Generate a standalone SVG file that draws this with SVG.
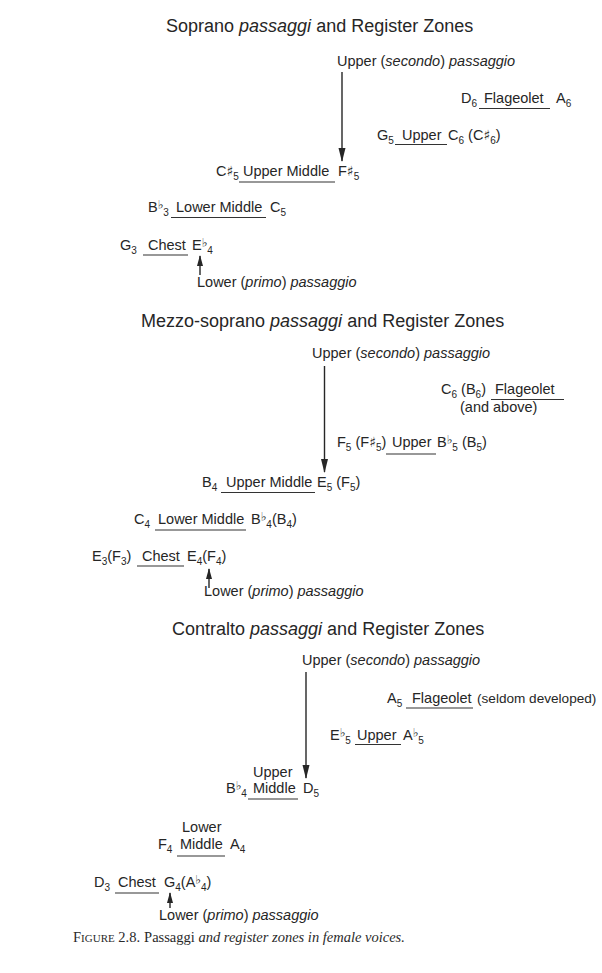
<svg xmlns="http://www.w3.org/2000/svg" width="602" height="973" viewBox="0 0 602 973">
<style>
text { font-family: "Liberation Sans", Arial, sans-serif; font-size: 14.5px; fill: #262626; }
.title { font-size: 18px; }
.i { font-style: italic; }
.s { font-size: 10px; }
.f { font-family: "DejaVu Sans", sans-serif; font-size: 12px; }
.sh { font-family: "DejaVu Sans", sans-serif; font-size: 14px; }
.ul { stroke: #333; stroke-width: 1.2; }
.arr { stroke: #262626; stroke-width: 1.4; fill: none; }
.cap { font-family: "Liberation Serif", "Times New Roman", serif; font-size: 14.5px; fill: #2a2a2a; }
.sc { font-size: 11px; }
</style>
<defs>
<marker id="ah" markerUnits="userSpaceOnUse" markerWidth="14" markerHeight="8" refX="13" refY="4" orient="auto">
<path d="M0,0.5 L14,4 L0,7.5 z" fill="#262626"/>
</marker>
<marker id="ahs" markerUnits="userSpaceOnUse" markerWidth="11" markerHeight="7" refX="10" refY="3.5" orient="auto">
<path d="M0,0.5 L11,3.5 L0,6.5 z" fill="#262626"/>
</marker>
</defs>
<rect width="602" height="973" fill="#ffffff"/>

<!-- Soprano -->
<g id="soprano-title"><text class="title" x="166" y="32">Soprano <tspan class="i">passaggi</tspan> and Register Zones</text></g>
<g id="s-upper-passaggio"><text x="337" y="66">Upper (<tspan class="i">secondo</tspan>) <tspan class="i">passaggio</tspan></text></g>
<g id="s-flageolet">
<text x="461" y="103">D<tspan class="s" dy="4">6</tspan></text>
<text x="484" y="103">Flageolet</text>
<line class="ul" x1="479" y1="108.5" x2="550" y2="108.5"/>
<text x="556" y="103">A<tspan class="s" dy="4">6</tspan></text>
</g>
<g id="s-upper">
<text x="377" y="140">G<tspan class="s" dy="4">5</tspan></text>
<text x="402" y="140">Upper</text>
<line class="ul" x1="395" y1="144.5" x2="447" y2="144.5"/>
<text x="448" y="140">C<tspan class="s" dy="4">6</tspan><tspan dy="-4"> (C</tspan><tspan class="sh">♯</tspan><tspan class="s" dy="4">6</tspan><tspan dy="-4">)</tspan></text>
</g>
<g id="s-upper-middle">
<text x="216" y="176">C<tspan class="sh">♯</tspan><tspan class="s" dy="4">5</tspan></text>
<text x="243" y="176">Upper Middle</text>
<line class="ul" x1="239" y1="182" x2="335" y2="182"/>
<text x="338" y="176">F<tspan class="sh">♯</tspan><tspan class="s" dy="4">5</tspan></text>
</g>
<g id="s-lower-middle">
<text x="148" y="212">B<tspan class="f" dy="-3">♭</tspan><tspan class="s" dy="7">3</tspan></text>
<text x="176" y="212">Lower Middle</text>
<line class="ul" x1="171" y1="217.5" x2="266" y2="217.5"/>
<text x="270" y="212">C<tspan class="s" dy="4">5</tspan></text>
</g>
<g id="s-chest">
<text x="120" y="250">G<tspan class="s" dy="4">3</tspan></text>
<text x="148" y="250">Chest</text>
<line class="ul" x1="143" y1="255" x2="188" y2="255"/>
<text x="192" y="250">E<tspan class="f" dy="-3">♭</tspan><tspan class="s" dy="7">4</tspan></text>
</g>
<g id="s-lower-passaggio"><text x="197" y="287">Lower (<tspan class="i">primo</tspan>) <tspan class="i">passaggio</tspan></text></g>

<!-- Mezzo-soprano -->
<g id="mezzo-title"><text class="title" x="141" y="327">Mezzo-soprano <tspan class="i">passaggi</tspan> and Register Zones</text></g>
<g id="m-upper-passaggio"><text x="312" y="358">Upper (<tspan class="i">secondo</tspan>) <tspan class="i">passaggio</tspan></text></g>
<g id="m-flageolet">
<text x="441" y="394">C<tspan class="s" dy="4">6</tspan><tspan dy="-4"> (B</tspan><tspan class="s" dy="4">6</tspan><tspan dy="-4">)</tspan></text>
<text x="495" y="394">Flageolet</text>
<line class="ul" x1="491" y1="399.5" x2="564" y2="399.5"/>
<text x="460" y="412">(and above)</text>
</g>
<g id="m-upper">
<text x="337" y="447">F<tspan class="s" dy="4">5</tspan><tspan dy="-4"> (F</tspan><tspan class="sh">♯</tspan><tspan class="s" dy="4">5</tspan><tspan dy="-4">)</tspan></text>
<text x="392" y="447">Upper</text>
<line class="ul" x1="386" y1="454" x2="436" y2="454"/>
<text x="437" y="447">B<tspan class="f" dy="-3">♭</tspan><tspan class="s" dy="7">5</tspan><tspan dy="-4"> (B</tspan><tspan class="s" dy="4">5</tspan><tspan dy="-4">)</tspan></text>
</g>
<g id="m-upper-middle">
<text x="202" y="487">B<tspan class="s" dy="4">4</tspan></text>
<text x="226" y="487">Upper Middle</text>
<line class="ul" x1="221" y1="492.5" x2="315" y2="492.5"/>
<text x="317" y="487">E<tspan class="s" dy="4">5</tspan><tspan dy="-4"> (F</tspan><tspan class="s" dy="4">5</tspan><tspan dy="-4">)</tspan></text>
</g>
<g id="m-lower-middle">
<text x="134" y="524">C<tspan class="s" dy="4">4</tspan></text>
<text x="158" y="524">Lower Middle</text>
<line class="ul" x1="155" y1="530" x2="246" y2="530"/>
<text x="251" y="524">B<tspan class="f" dy="-3">♭</tspan><tspan class="s" dy="7">4</tspan><tspan dy="-4">(B</tspan><tspan class="s" dy="4">4</tspan><tspan dy="-4">)</tspan></text>
</g>
<g id="m-chest">
<text x="92" y="561">E<tspan class="s" dy="4">3</tspan><tspan dy="-4">(F</tspan><tspan class="s" dy="4">3</tspan><tspan dy="-4">)</tspan></text>
<text x="142" y="561">Chest</text>
<line class="ul" x1="137" y1="566" x2="184" y2="566"/>
<text x="187" y="561">E<tspan class="s" dy="4">4</tspan><tspan dy="-4">(F</tspan><tspan class="s" dy="4">4</tspan><tspan dy="-4">)</tspan></text>
</g>
<g id="m-lower-passaggio"><text x="204" y="596">Lower (<tspan class="i">primo</tspan>) <tspan class="i">passaggio</tspan></text></g>

<!-- Contralto -->
<g id="contralto-title"><text class="title" x="172" y="635">Contralto <tspan class="i">passaggi</tspan> and Register Zones</text></g>
<g id="c-upper-passaggio"><text x="302" y="665">Upper (<tspan class="i">secondo</tspan>) <tspan class="i">passaggio</tspan></text></g>
<g id="c-flageolet">
<text x="387" y="703">A<tspan class="s" dy="4">5</tspan></text>
<text x="412" y="703">Flageolet</text>
<line class="ul" x1="406" y1="708" x2="473" y2="708"/>
<text x="477" y="703" style="font-size:13.6px">(seldom developed)</text>
</g>
<g id="c-upper">
<text x="330" y="740">E<tspan class="f" dy="-3">♭</tspan><tspan class="s" dy="7">5</tspan></text>
<text x="357" y="740">Upper</text>
<line class="ul" x1="355" y1="744.5" x2="401" y2="744.5"/>
<text x="403" y="740">A<tspan class="f" dy="-3">♭</tspan><tspan class="s" dy="7">5</tspan></text>
</g>
<g id="c-upper-middle">
<text x="253" y="777">Upper</text>
<text x="226" y="793">B<tspan class="f" dy="-3">♭</tspan><tspan class="s" dy="7">4</tspan></text>
<text x="253" y="793">Middle</text>
<line class="ul" x1="248" y1="799" x2="298" y2="799"/>
<text x="303" y="793">D<tspan class="s" dy="4">5</tspan></text>
</g>
<g id="c-lower-middle">
<text x="182" y="832">Lower</text>
<text x="158" y="849">F<tspan class="s" dy="4">4</tspan></text>
<text x="180" y="849">Middle</text>
<line class="ul" x1="177" y1="856" x2="225" y2="856"/>
<text x="230" y="849">A<tspan class="s" dy="4">4</tspan></text>
</g>
<g id="c-chest">
<text x="94" y="887">D<tspan class="s" dy="4">3</tspan></text>
<text x="118" y="887">Chest</text>
<line class="ul" x1="115" y1="893" x2="159" y2="893"/>
<text x="164" y="887">G<tspan class="s" dy="4">4</tspan><tspan dy="-4">(A</tspan><tspan class="f" dy="-3">♭</tspan><tspan class="s" dy="7">4</tspan><tspan dy="-4">)</tspan></text>
</g>
<g id="c-lower-passaggio"><text x="159" y="920">Lower (<tspan class="i">primo</tspan>) <tspan class="i">passaggio</tspan></text></g>

<!-- Connectors -->
<g id="connectors">
<line class="arr" x1="342" y1="72" x2="342" y2="161" marker-end="url(#ah)"/>
<line class="arr" x1="200" y1="275" x2="200" y2="256" marker-end="url(#ahs)"/>
<line class="arr" x1="324.5" y1="366" x2="324.5" y2="472" marker-end="url(#ah)"/>
<line class="arr" x1="209" y1="588" x2="209" y2="569" marker-end="url(#ahs)"/>
<line class="arr" x1="306" y1="672" x2="306" y2="778" marker-end="url(#ah)"/>
<line class="arr" x1="170" y1="908" x2="170" y2="893" marker-end="url(#ahs)"/>
</g>

<!-- Caption -->
<g id="caption"><text class="cap" x="73" y="942">F<tspan class="sc">IGURE</tspan> 2.8.<tspan dx="4">Passaggi</tspan> <tspan font-style="italic">and register zones in female voices.</tspan></text></g>
</svg>
